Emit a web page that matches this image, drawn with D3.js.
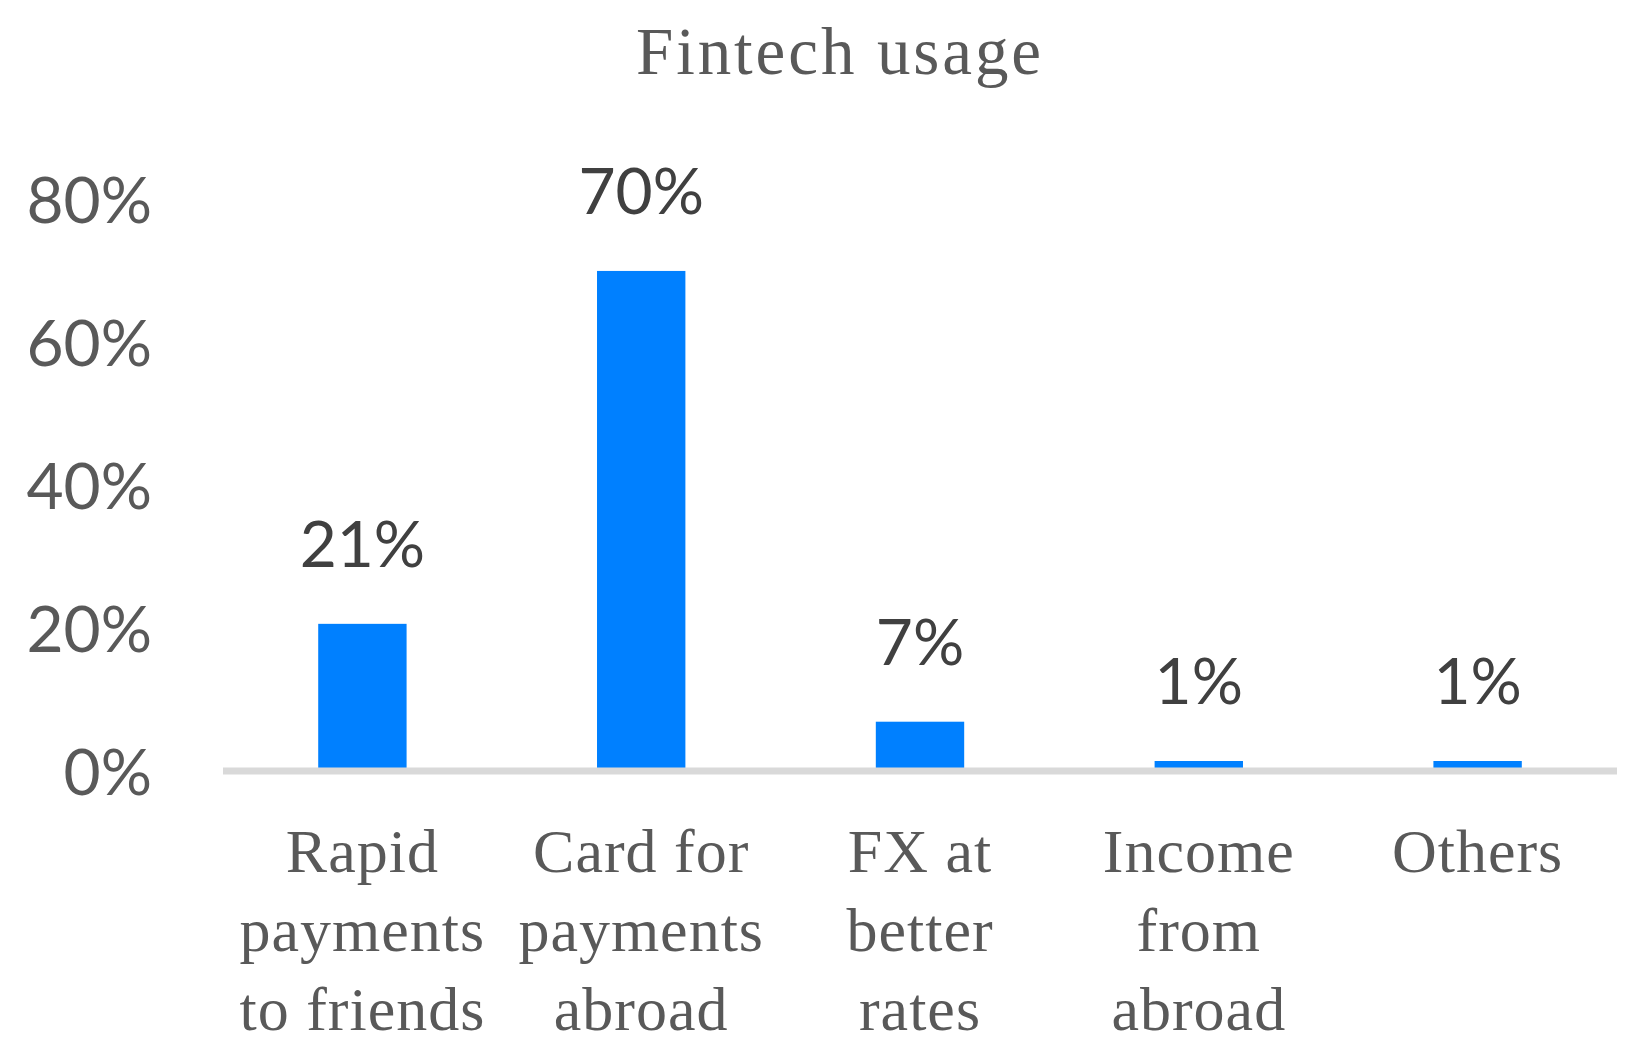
<!DOCTYPE html>
<html>
<head>
<meta charset="utf-8">
<script src="https://cdn.jsdelivr.net/npm/d3@7"></script>
<style>
  html, body { margin: 0; padding: 0; background: #fff; }
  svg { display: block; }
</style>
</head>
<body>
<svg id="chart"></svg>
<script>
const WIDTH = 1646;
const HEIGHT = 1061;

const categories = [
  ["Rapid", "payments", "to friends"],
  ["Card for", "payments", "abroad"],
  ["FX at", "better", "rates"],
  ["Income", "from", "abroad"],
  ["Others"]
];
const values = [0.206, 0.70, 0.069, 0.014, 0.014];
const yTicks = [0, 0.2, 0.4, 0.6, 0.8];

const SERIF = "'Liberation Serif', 'Times New Roman', serif";
const SANS = "Lato, 'Open Sans', sans-serif";

const svg = d3.select("#chart").attr("width", WIDTH).attr("height", HEIGHT);

const x = d3
  .scaleBand()
  .domain(d3.range(categories.length))
  .range([223, 1617])
  .paddingInner(0.683)
  .paddingOuter(0.3415);

const y = d3.scaleLinear().domain([0, 0.8]).range([771, 199.5]);

const pct = d3.format(".0%");

// title
svg
  .append("text")
  .attr("x", 840)
  .attr("y", 74)
  .attr("text-anchor", "middle")
  .attr("font-family", SERIF)
  .attr("font-size", 67)
  .attr("letter-spacing", 2.9)
  .attr("fill", "#595959")
  .text("Fintech usage");

// y axis labels (no line, no ticks)
const yAxis = d3.axisLeft(y).tickValues(yTicks).tickFormat(pct).tickSize(0).tickPadding(0);
const yG = svg.append("g").attr("transform", "translate(152,0)").call(yAxis);
yG.select(".domain").remove();
yG.selectAll("text")
  .attr("font-family", SANS)
  .attr("font-size", 64)
  .attr("fill", "#595959")
  .attr("dy", "0.36em");

// bars
svg
  .append("g")
  .selectAll("rect")
  .data(values)
  .join("rect")
  .attr("x", (d, i) => x(i))
  .attr("width", x.bandwidth())
  .attr("y", (d) => y(d))
  .attr("height", (d) => y(0) - y(d))
  .attr("fill", "#0080ff");

// category axis line
svg
  .append("line")
  .attr("x1", 223)
  .attr("x2", 1617)
  .attr("y1", y(0))
  .attr("y2", y(0))
  .attr("stroke", "#d9d9d9")
  .attr("stroke-width", 7);

// data labels
svg
  .append("g")
  .selectAll("text")
  .data(values)
  .join("text")
  .attr("x", (d, i) => x(i) + x.bandwidth() / 2)
  .attr("y", (d) => y(d) - 57)
  .attr("text-anchor", "middle")
  .attr("font-family", SANS)
  .attr("font-size", 64)
  .attr("fill", "#404040")
  .text((d) => pct(d));

// category labels
const catG = svg
  .append("g")
  .selectAll("text")
  .data(categories)
  .join("text")
  .attr("x", (d, i) => x(i) + x.bandwidth() / 2)
  .attr("y", 872)
  .attr("text-anchor", "middle")
  .attr("font-family", SERIF)
  .attr("font-size", 62)
  .attr("letter-spacing", 1)
  .attr("fill", "#595959");

catG
  .selectAll("tspan")
  .data((d) => d)
  .join("tspan")
  .attr("x", function () {
    return d3.select(this.parentNode).attr("x");
  })
  .attr("y", (d, i) => 872 + i * 79)
  .text((d) => d);
</script>
</body>
</html>
